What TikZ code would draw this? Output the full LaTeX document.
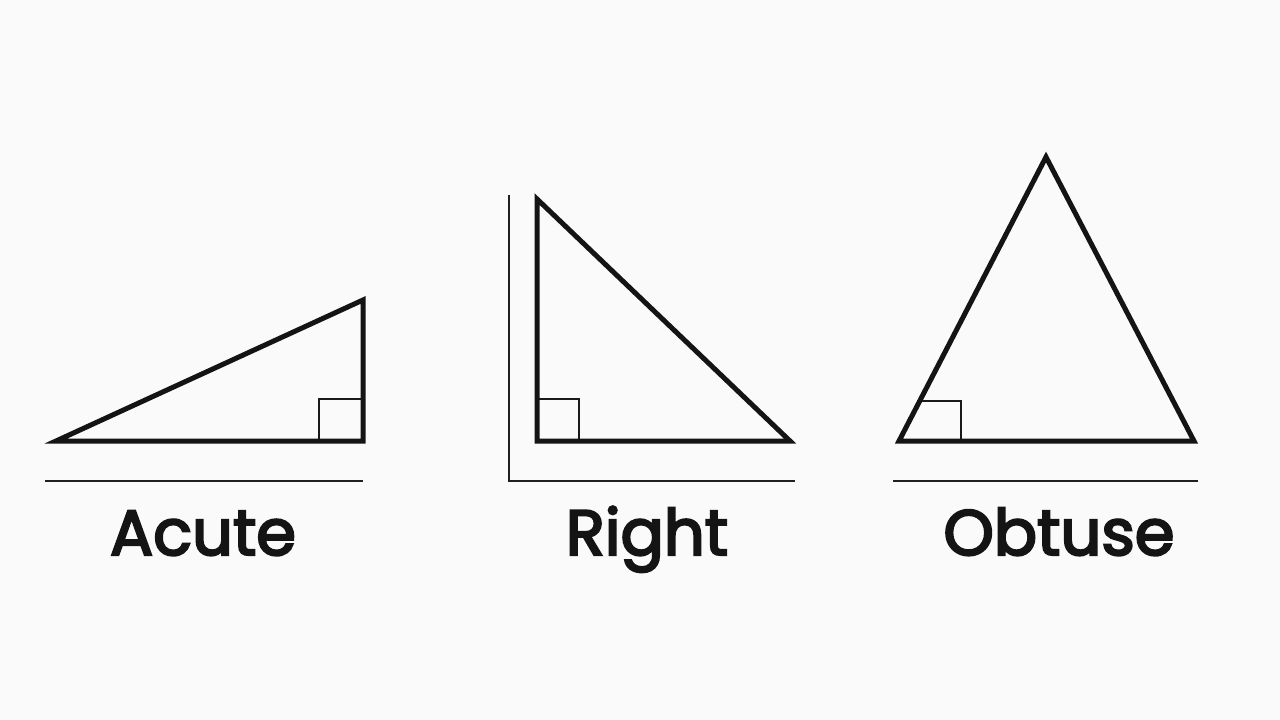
\documentclass[tikz,border=0pt]{standalone}
\usepackage{fontspec}
\newfontfamily\lblfont{Poppins}[FakeBold=3.5]
\begin{document}
\begin{tikzpicture}[x=1pt,y=-1pt,
  tri/.style={draw=black!92,line width=5pt,line join=miter,miter limit=20},
  sqmark/.style={draw=black!90,line width=2pt},
  base/.style={draw=black!88,line width=2pt},
  lbl/.style={font=\lblfont\fontsize{64}{70}\selectfont,text=black!92,inner sep=0pt,anchor=base}]
\fill[black!2] (0,0) rectangle (1280,720);
\useasboundingbox (0,0) rectangle (1280,720);
% Acute
\coordinate (a1) at (56,441);
\coordinate (a2) at (363,300);
\coordinate (a3) at (363,441);
\draw[sqmark] (319,441) -- (319,399) -- (363,399);
\draw[tri] (a1) -- (a2) -- (a3) -- cycle;
\coordinate (ab1) at (45,481);
\coordinate (ab2) at (363,481);
\draw[base] (ab1) -- (ab2);
\node[lbl] (tacute) at (203,555) {Acute};
% Right
\coordinate (r1) at (537,199);
\coordinate (r2) at (537,441);
\coordinate (r3) at (790,441);
\draw[sqmark] (537,399) -- (579,399) -- (579,441);
\draw[tri] (r1) -- (r2) -- (r3) -- cycle;
\coordinate (rb0) at (509,195);
\coordinate (rb1) at (509,481);
\coordinate (rb2) at (795,481);
\draw[base] (rb0) -- (rb1) -- (rb2);
\node[lbl] (tright) at (647,555) {Right};
% Obtuse
\coordinate (o1) at (1046,157);
\coordinate (o2) at (899,441);
\coordinate (o3) at (1194,441);
\draw[sqmark] (917,401) -- (961,401) -- (961,441);
\draw[tri] (o1) -- (o2) -- (o3) -- cycle;
\coordinate (ob1) at (893,481);
\coordinate (ob2) at (1198,481);
\draw[base] (ob1) -- (ob2);
\node[lbl] (tobtuse) at (1059,555) {Obtuse};
\end{tikzpicture}
\end{document}
